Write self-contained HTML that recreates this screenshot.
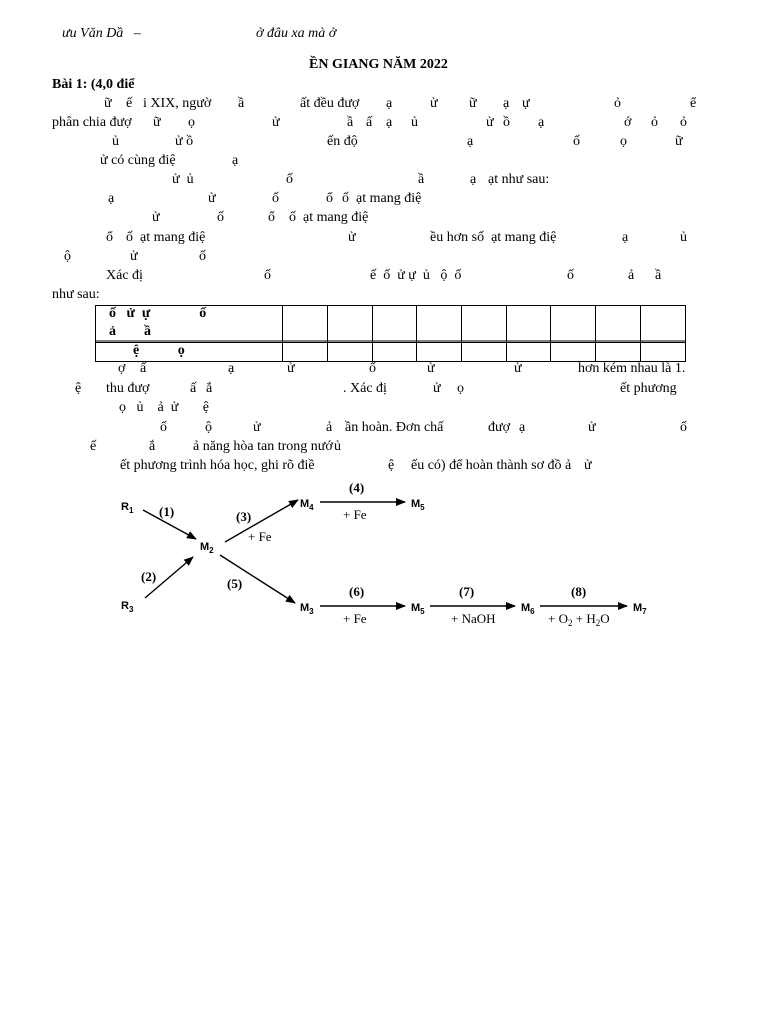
<!DOCTYPE html>
<html><head><meta charset="utf-8"><style>
body{margin:0;width:768px;height:1024px;background:#fff;position:relative;overflow:hidden;font-family:"Liberation Serif","DejaVu Serif",serif;font-size:14px;color:#000}
span{position:absolute;white-space:pre;line-height:18px}
.b{font-weight:bold}
svg{position:absolute;left:0;top:0}
</style></head><body>
<span style="left:62px;top:25px;font-style:italic">ưu Văn Dầ   –</span>
<span style="left:256px;top:25px;font-style:italic">ở đâu xa mà ở</span>
<span class="b" style="left:309px;top:56px">ỀN GIANG NĂM 2022</span>
<span class="b" style="left:52px;top:76px">Bài 1: (4,0 điể</span>

<span style="left:104px;top:95px">ữ</span><span style="left:126px;top:95px">ế</span><span style="left:143px;top:95px">i XIX, ngườ</span><span style="left:238px;top:95px">ầ</span><span style="left:300px;top:95px">ất đều đượ</span><span style="left:386px;top:95px">ạ</span><span style="left:430px;top:95px">ử</span><span style="left:469px;top:95px">ữ</span><span style="left:503px;top:95px">ạ</span><span style="left:522px;top:95px">ự</span><span style="left:614px;top:95px">ỏ</span><span style="left:690px;top:95px">ể</span>

<span style="left:52px;top:114px">phân chia đượ</span><span style="left:153px;top:114px">ữ</span><span style="left:188px;top:114px">ọ</span><span style="left:272px;top:114px">ử</span><span style="left:347px;top:114px">ầ</span><span style="left:366px;top:114px">ấ</span><span style="left:386px;top:114px">ạ</span><span style="left:411px;top:114px">ủ</span><span style="left:486px;top:114px">ử</span><span style="left:503px;top:114px">ồ</span><span style="left:538px;top:114px">ạ</span><span style="left:624px;top:114px">ớ</span><span style="left:651px;top:114px">ỏ</span><span style="left:680px;top:114px">ỏ</span>

<span style="left:112px;top:133px">ủ</span><span style="left:175px;top:133px">ử ồ</span><span style="left:327px;top:133px">ến độ</span><span style="left:467px;top:133px">ạ</span><span style="left:573px;top:133px">ố</span><span style="left:620px;top:133px">ọ</span><span style="left:675px;top:133px">ữ</span>

<span style="left:100px;top:152px">ử có cùng điệ</span><span style="left:232px;top:152px">ạ</span>

<span style="left:172px;top:171px">ử  ủ</span><span style="left:286px;top:171px">ố</span><span style="left:418px;top:171px">ầ</span><span style="left:470px;top:171px">ạ</span><span style="left:488px;top:171px">ạt như sau:</span>

<span style="left:108px;top:190px">ạ</span><span style="left:208px;top:190px">ử</span><span style="left:272px;top:190px">ố</span><span style="left:326px;top:190px">ổ</span><span style="left:342px;top:190px">ố  ạt mang điệ</span>

<span style="left:152px;top:209px">ử</span><span style="left:217px;top:209px">ố</span><span style="left:268px;top:209px">ổ</span><span style="left:289px;top:209px">ố  ạt mang điệ</span>

<span style="left:106px;top:229px">ổ</span><span style="left:126px;top:229px">ố  ạt mang điệ</span><span style="left:348px;top:229px">ử</span><span style="left:430px;top:229px">ều hơn số  ạt mang điệ</span><span style="left:622px;top:229px">ạ</span><span style="left:680px;top:229px">ủ</span>

<span style="left:64px;top:248px">ộ</span><span style="left:130px;top:248px">ử</span><span style="left:199px;top:248px">ố</span>

<span style="left:106px;top:267px">Xác đị</span><span style="left:264px;top:267px">ố</span><span style="left:370px;top:267px">ế  ố  ử ự  ủ   ộ  ố</span><span style="left:567px;top:267px">ố</span><span style="left:628px;top:267px">ả</span><span style="left:655px;top:267px">ầ</span>

<span style="left:52px;top:286px">như sau:</span>

<svg width="768" height="1024" viewBox="0 0 768 1024">
<g stroke="#000" stroke-width="1" fill="none">
<rect x="95.5" y="305.5" width="590" height="56"/>
<line x1="95" y1="342.5" x2="686" y2="342.5"/>
<line x1="95" y1="341" x2="686" y2="341"/>
<line x1="282.5" y1="305" x2="282.5" y2="362"/><line x1="327.5" y1="305" x2="327.5" y2="362"/>
<line x1="372.5" y1="305" x2="372.5" y2="362"/><line x1="416.5" y1="305" x2="416.5" y2="362"/>
<line x1="461.5" y1="305" x2="461.5" y2="362"/><line x1="506.5" y1="305" x2="506.5" y2="362"/>
<line x1="550.5" y1="305" x2="550.5" y2="362"/><line x1="595.5" y1="305" x2="595.5" y2="362"/>
<line x1="640.5" y1="305" x2="640.5" y2="362"/>
</g>
<defs><marker id="a" markerWidth="10" markerHeight="8" refX="9" refY="4" orient="auto" markerUnits="userSpaceOnUse"><path d="M0,0 L10,4 L0,8 Z" fill="#000"/></marker></defs>
<g stroke="#000" stroke-width="1.4" marker-end="url(#a)">
<line x1="143" y1="510" x2="196" y2="539"/>
<line x1="145" y1="598" x2="193" y2="557"/>
<line x1="225" y1="542" x2="298" y2="500"/>
<line x1="220" y1="555" x2="295" y2="603"/>
<line x1="320" y1="502" x2="405" y2="502"/>
<line x1="320" y1="606" x2="405" y2="606"/>
<line x1="430" y1="606" x2="515" y2="606"/>
<line x1="540" y1="606" x2="627" y2="606"/>
</g>
<g font-family="Liberation Sans, sans-serif" font-weight="bold" font-size="11">
<text x="121" y="510">R<tspan font-size="8" dy="3">1</tspan></text>
<text x="200" y="550">M<tspan font-size="8" dy="3">2</tspan></text>
<text x="300" y="507">M<tspan font-size="8" dy="3">4</tspan></text>
<text x="411" y="507">M<tspan font-size="8" dy="3">5</tspan></text>
<text x="121" y="609">R<tspan font-size="8" dy="3">3</tspan></text>
<text x="300" y="611">M<tspan font-size="8" dy="3">3</tspan></text>
<text x="411" y="611">M<tspan font-size="8" dy="3">5</tspan></text>
<text x="521" y="611">M<tspan font-size="8" dy="3">6</tspan></text>
<text x="633" y="611">M<tspan font-size="8" dy="3">7</tspan></text>
</g>
<g font-family="Liberation Serif, serif" font-size="13">
<text x="159" y="516" font-weight="bold">(1)</text>
<text x="141" y="581" font-weight="bold">(2)</text>
<text x="236" y="521" font-weight="bold">(3)</text>
<text x="248" y="541">+ Fe</text>
<text x="349" y="492" font-weight="bold">(4)</text>
<text x="343" y="519">+ Fe</text>
<text x="227" y="588" font-weight="bold">(5)</text>
<text x="349" y="596" font-weight="bold">(6)</text>
<text x="343" y="623">+ Fe</text>
<text x="459" y="596" font-weight="bold">(7)</text>
<text x="451" y="623">+ NaOH</text>
<text x="571" y="596" font-weight="bold">(8)</text>
<text x="548" y="623">+ O<tspan font-size="9" dy="3">2</tspan><tspan dy="-3"> + H</tspan><tspan font-size="9" dy="3">2</tspan><tspan dy="-3">O</tspan></text>
</g>
</svg>

<span class="b" style="left:109px;top:305px">ố   ử  ự              ố</span>
<span class="b" style="left:109px;top:323px">ả        ầ</span>
<span class="b" style="left:133px;top:342px">ệ           ọ</span>

<span style="left:118px;top:360px">ợ</span><span style="left:140px;top:360px">ấ</span><span style="left:228px;top:360px">ạ</span><span style="left:287px;top:360px">ử</span><span style="left:369px;top:360px">ố</span><span style="left:427px;top:360px">ử</span><span style="left:514px;top:360px">ử</span><span style="left:578px;top:360px">hơn kém nhau là 1.</span>

<span style="left:75px;top:380px">ệ</span><span style="left:106px;top:380px">thu đượ</span><span style="left:190px;top:380px">ấ</span><span style="left:206px;top:380px">ắ</span><span style="left:343px;top:380px">. Xác đị</span><span style="left:433px;top:380px">ử</span><span style="left:457px;top:380px">ọ</span><span style="left:620px;top:380px">ết phương</span>

<span style="left:119px;top:399px">ọ   ủ    ả  ử       ệ</span>

<span style="left:160px;top:419px">ố</span><span style="left:205px;top:419px">ộ</span><span style="left:253px;top:419px">ử</span><span style="left:326px;top:419px">ả</span><span style="left:345px;top:419px">ần hoàn. Đơn chấ</span><span style="left:488px;top:419px">đượ</span><span style="left:519px;top:419px">ạ</span><span style="left:588px;top:419px">ử</span><span style="left:680px;top:419px">ố</span>

<span style="left:90px;top:438px">ế</span><span style="left:149px;top:438px">ắ</span><span style="left:193px;top:438px">ả năng hòa tan trong nướ</span><span style="left:334px;top:438px">ủ</span>

<span style="left:120px;top:457px">ết phương trình hóa học, ghi rõ điề</span><span style="left:388px;top:457px">ệ</span><span style="left:411px;top:457px">ếu có) để hoàn thành sơ đồ</span><span style="left:565px;top:457px">ả</span><span style="left:584px;top:457px">ử</span>
</body></html>
